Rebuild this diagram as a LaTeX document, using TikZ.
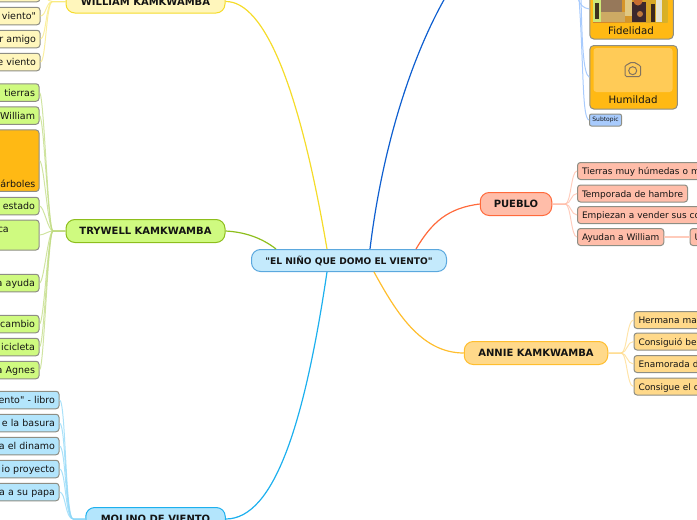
\documentclass[tikz,border=0pt]{standalone}
\usepackage{fontspec}
\setmainfont{DejaVu Sans}[Ligatures=TeXOff]
\definecolor{txtdark}{HTML}{141414}
\definecolor{subline}{HTML}{8E8E84}
\definecolor{rootfill}{HTML}{C4EAFC}
\definecolor{rootline}{HTML}{5BA8DE}
\definecolor{yelfill}{HTML}{FFF6BC}
\definecolor{yelline}{HTML}{F5DC2A}
\definecolor{grnfill}{HTML}{CFFA80}
\definecolor{grnline}{HTML}{8DBE1C}
\definecolor{cyafill}{HTML}{B3E5FC}
\definecolor{cyaline}{HTML}{1DB0EE}
\definecolor{salfill}{HTML}{FFBDA9}
\definecolor{salline}{HTML}{FF6A3C}
\definecolor{orafill}{HTML}{FFD98A}
\definecolor{oraline}{HTML}{FFBE2E}
\definecolor{bluline}{HTML}{0F5FD0}
\definecolor{tilefill}{HTML}{FFB914}
\definecolor{tileinner}{HTML}{FFCB57}
\definecolor{topicfill}{HTML}{A8CBFD}
\definecolor{camline}{HTML}{82735F}
\tikzset{
    branch/.style={draw, line width=1pt, rounded corners=9pt, minimum height=23pt, inner sep=0pt,
        text=txtdark, text height=9pt, text depth=2pt, font=\fontsize{10}{11}\selectfont\bfseries},
    leftsub/.style={draw=subline, line width=1pt, rounded corners=3pt, anchor=east, minimum height=17.5pt,
        text width=110pt, align=right, inner xsep=4pt, inner ysep=0pt, text=txtdark,
        text height=9pt, text depth=2pt, font=\fontsize{9.5}{11}\selectfont},
    rightsub/.style={draw=subline, line width=1pt, rounded corners=3pt, anchor=west, minimum height=17pt,
        inner xsep=4.5pt, inner ysep=0pt, text=txtdark, text height=9pt, text depth=2pt,
        font=\fontsize{8.95}{11}\selectfont},
    tile/.style={draw=subline, line width=1pt, rounded corners=4pt, inner sep=0pt, fill=tilefill},
    plain/.style={inner sep=0pt, text=txtdark, font=\fontsize{9.5}{11}\selectfont},
    twig/.style={line width=1pt, opacity=.75}
}
\begin{document}
\begin{tikzpicture}[x=1pt,y=-1pt]
    \useasboundingbox (0,0) rectangle (697,520);
    \clip (0,0) rectangle (697,520);

    % centre and main branches
    \node[branch, draw=rootline, fill=rootfill, minimum width=195pt, minimum height=22pt,
        font=\fontsize{9.1}{10}\selectfont\bfseries] (root) at (349,260.5) {"EL NIÑO QUE DOMO EL VIENTO"};
    \node[branch, draw=yelline, fill=yelfill, minimum width=159pt] (william) at (145.5,1.5) {WILLIAM KAMKWAMBA};
    \node[branch, draw=grnline, fill=grnfill, minimum width=159pt] (trywell) at (145.5,231) {TRYWELL KAMKWAMBA};
    \node[branch, draw=cyaline, fill=cyafill, minimum width=139.5pt] (molino) at (155.5,519) {MOLINO DE VIENTO};
    \node[branch, draw=salline, fill=salfill, minimum width=71.5pt] (pueblo) at (516,204) {PUEBLO};
    \node[branch, draw=oraline, fill=orafill, minimum width=143.5pt] (annie) at (536,353) {ANNIE KAMKWAMBA};
    \coordinate (bluetop) at (445,-2);

    \draw[yelline, line width=1.2pt] (william.east) .. controls (265,1) and (300,90) .. ([xshift=-22pt]root.north);
    \draw[grnline, line width=1.2pt] (trywell.east) .. controls (245,232) and (262,238) .. ([xshift=-73pt]root.north);
    \draw[cyaline, line width=1.2pt] (molino.east) .. controls (275,519) and (305,420) .. ([xshift=-22pt]root.south);
    \draw[bluline, line width=1.2pt] ([xshift=21pt]root.north) .. controls (382,150) and (410,60) .. (bluetop);
    \draw[salline, line width=1.2pt] ([xshift=67pt]root.north) .. controls (432,222) and (448,208) .. (pueblo.west);
    \draw[oraline, line width=1.2pt] ([xshift=25pt]root.south) .. controls (395,310) and (420,353) .. (annie.west);

    % left children
    \foreach \name/\y/\words in {wa/-7/{}, wb/16/{viento"}, wc/39/{r amigo}, wd/62/{e viento}} {
        \node[leftsub, fill=yelfill] (\name) at (40.5,\y) {\words};
        \draw[yelline!60, twig] (william.west) -- ++(-13,0) .. controls (46,2) and (46,\y) .. (\name.east);
    }
    \node[leftsub, fill=grnfill] (ga) at (39.5,92.5) {tierras};
    \node[leftsub, fill=grnfill] (gb) at (39.5,115.5) {William};
    \node[leftsub, fill=tilefill, minimum height=61.5pt] (gc) at (39.5,160.7) {};
    \node[plain, anchor=east] (gctext) at (35.5,183.5) {árboles};
    \node[leftsub, fill=grnfill] (gd) at (39.5,206) {estado};
    \node[leftsub, fill=grnfill, minimum height=30pt] (ge) at (39.5,235) {};
    \node[plain, anchor=east] (getext) at (9,229.5) {ca};
    \node[leftsub, fill=grnfill] (gf) at (39.5,283) {a ayuda};
    \node[leftsub, fill=grnfill] (gg) at (39.5,324) {cambio};
    \node[leftsub, fill=grnfill] (gh) at (39.5,347) {icicleta};
    \node[leftsub, fill=grnfill] (gi) at (39.5,370) {a Agnes};
    \foreach \name in {ga, gb, gc, gd, ge, gf, gg, gh, gi}
        \draw[grnline!55, twig] (trywell.west) -- ++(-12.5,0) .. controls (48,231) and (44,231 |- \name.east) .. (\name.east);
    \foreach \name/\y/\words in {ma/400/{ento" - libro}, mb/423/{e la basura}, mc/446/{a el dinamo},
        md/469/{io proyecto}, me/492/{a a su papa}} {
        \node[leftsub, fill=cyafill] (\name) at (59.5,\y) {\words};
        \draw[cyaline!50, twig] (molino.west) -- ++(-12,0) .. controls (65,519) and (66,\y) .. (\name.east);
    }

    % right children
    \node[rightsub, fill=salfill, minimum width=180pt, text width=171pt, align=left] (pa) at (577,171) {Tierras muy húmedas o m};
    \node[rightsub, fill=salfill] (pb) at (577,193.5) {Temporada de hambre};
    \node[rightsub, fill=salfill, minimum width=180pt, text width=171pt, align=left] (pc) at (577,215) {Empiezan a vender sus co};
    \node[rightsub, fill=salfill] (pd) at (577,237) {Ayudan a William};
    \node[rightsub, fill=salfill, minimum width=60pt, text width=51pt, align=left] (pe) at (689.5,237) {U};
    \foreach \name in {pa, pb, pc, pd}
        \draw[salline!45, twig] (pueblo.east) -- ++(13,0) .. controls (571,204) and (571,204 |- \name.west) .. (\name.west);
    \draw[salline!35, line width=1.2pt] (pd) -- (pe);
    \foreach \name/\y/\words in {aa/320/{Hermana ma}, ab/341.5/{Consiguió be}, ac/364/{Enamorada d}, ad/386.5/{Consigue el c}} {
        \node[rightsub, fill=orafill, minimum width=90pt, text width=81pt, align=left] (\name) at (633.5,\y) {\words};
        \draw[oraline!55, twig] (annie.east) -- ++(13,0) .. controls (627,353) and (627,\y) .. (\name.west);
    }

    % tiles on the blue branch
    \node[tile, anchor=south west, minimum width=83.5pt, minimum height=60pt] (fidelidad) at (589.3,39.5) {};
    \shade[left color=brown!70!orange, right color=brown!60!yellow] (593,-2) rectangle (667.5,22);
    \fill[color={rgb,255:red,205;green,232;blue,120}] (593,-2) rectangle (600.5,22);
    \fill[color={rgb,255:red,60;green,50;blue,30}] (595,3) rectangle (598.5,19);
    \fill[color={rgb,255:red,150;green,120;blue,90}] (601,-2) rectangle (622,12);
    \fill[color={rgb,255:red,205;green,170;blue,100}] (601,12) rectangle (625,22);
    \fill[color={rgb,255:red,225;green,200;blue,130}] (625,-2) rectangle (632,16);
    \fill[color={rgb,255:red,60;green,40;blue,45}] (632,2) rectangle (646,22);
    \fill[color={rgb,255:red,200;green,110;blue,50}] (638,1) circle (4.5);
    \fill[color={rgb,255:red,190;green,120;blue,60}] (640,14) circle (3);
    \fill[color={rgb,255:red,230;green,228;blue,210}] (656,-2) rectangle (662,22);
    \fill[color={rgb,255:red,60;green,40;blue,30}] (651,4) rectangle (655,22);
    \node[plain, font=\fontsize{10.2}{11}\selectfont] (fidtext) at (631,31) {Fidelidad};

    \node[tile, anchor=north west, minimum width=87.5pt, minimum height=63.5pt] (humildad) at (589.3,45) {};
    \node[fill=tileinner, rounded corners=3pt, inner sep=0pt, minimum width=79pt, minimum height=44pt] (humimg) at (633,70) {};
    \node[plain, font=\fontsize{10.2}{11}\selectfont] (humtext) at (633,100) {Humildad};
    \draw[camline, line width=1pt, rounded corners=1.5pt]
        (625,65) -- (628,65) -- (629.5,62.5) -- (636,62.5) -- (637.5,65) -- (640.5,65) -- (640.5,76.5) -- (625,76.5) -- cycle;
    \draw[camline, line width=1pt] (632.7,70.7) circle (4);

    \node[draw=subline, line width=1pt, fill=topicfill, rounded corners=2pt, inner sep=0pt, minimum width=32pt,
        minimum height=12pt, text=txtdark, font=\fontsize{6}{7}\selectfont] (subtopic) at (605.5,120) {Subtopic};

    \coordinate (twiga) at (578,-2);
    \coordinate (twigb) at (581,-2);
    \coordinate (twigc) at (579,-2);
    \draw[topicfill, line width=1pt] (twiga) .. controls (580,5) and (583,8) .. (fidelidad.west);
    \draw[topicfill, line width=1pt] (twigb) .. controls (582,40) and (583,74) .. (humildad.west);
    \draw[topicfill, line width=1pt] (twigc) .. controls (584,70) and (582,118) .. (subtopic.west);
\end{tikzpicture}
\end{document}
